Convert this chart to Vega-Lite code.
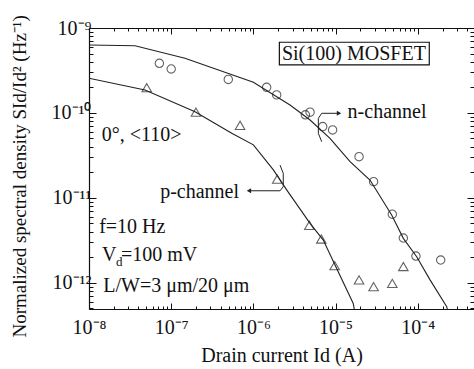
{
  "$schema": "https://vega.github.io/schema/vega-lite/v6.json",
  "width": 385,
  "height": 281,
  "autosize": {"type": "none"},
  "padding": {"left": 89, "top": 28, "right": 0, "bottom": 60},
  "background": "white",
  "config": {
    "view": {"stroke": null},
    "font": "Liberation Serif",
    "axis": {"grid": false, "domainColor": "#111", "tickColor": "#111", "labelColor": "#111", "titleColor": "#111", "labelFont": "Liberation Serif", "titleFont": "Liberation Serif", "titleFontWeight": "normal", "domainWidth": 1.2, "tickWidth": 1}
  },
  "datasets": {
    "fits": [
      {"ch": "n", "x": 1e-8, "y": 6.3e-10}, {"ch": "n", "x": 3.63e-8, "y": 6.19e-10}, {"ch": "n", "x": 1.47e-7, "y": 4.4e-10}, {"ch": "n", "x": 1e-6, "y": 2.3e-10}, {"ch": "n", "x": 2.79e-6, "y": 1.24e-10}, {"ch": "n", "x": 4.89e-6, "y": 8.25e-11}, {"ch": "n", "x": 8.55e-6, "y": 5.02e-11}, {"ch": "n", "x": 1.5e-5, "y": 2.66e-11}, {"ch": "n", "x": 2.62e-5, "y": 1.62e-11}, {"ch": "n", "x": 4.81e-5, "y": 6.27e-12}, {"ch": "n", "x": 6.67e-5, "y": 3.33e-12}, {"ch": "n", "x": 9.7e-5, "y": 2.02e-12}, {"ch": "n", "x": 1.41e-4, "y": 1.08e-12}, {"ch": "n", "x": 2.25e-4, "y": 5.2e-13}, {"ch": "n", "x": 2.4e-4, "y": 4.0e-13},
      {"ch": "p", "x": 1e-8, "y": 2.56e-10}, {"ch": "p", "x": 4.8e-8, "y": 1.86e-10}, {"ch": "p", "x": 1.95e-7, "y": 1.03e-10}, {"ch": "p", "x": 5.45e-7, "y": 5.75e-11}, {"ch": "p", "x": 1e-6, "y": 4.2e-11}, {"ch": "p", "x": 1.75e-6, "y": 2.13e-11}, {"ch": "p", "x": 2.54e-6, "y": 1.24e-11}, {"ch": "p", "x": 4.89e-6, "y": 5.0e-12}, {"ch": "p", "x": 7.08e-6, "y": 3.18e-12}, {"ch": "p", "x": 9.84e-6, "y": 1.62e-12}, {"ch": "p", "x": 1.64e-5, "y": 5.7e-13}, {"ch": "p", "x": 1.75e-5, "y": 4.0e-13}
    ],
    "nch": [
      {"x": 7.18e-8, "y": 3.84e-10}, {"x": 1.0e-7, "y": 3.29e-10}, {"x": 4.95e-7, "y": 2.48e-10}, {"x": 1.45e-6, "y": 2.0e-10}, {"x": 1.92e-6, "y": 1.63e-10}, {"x": 4.29e-6, "y": 9.5e-11}, {"x": 4.89e-6, "y": 1.02e-10}, {"x": 6.97e-6, "y": 6.9e-11}, {"x": 9.2e-6, "y": 6.3e-11}, {"x": 1.93e-5, "y": 3.05e-11}, {"x": 2.9e-5, "y": 1.55e-11}, {"x": 4.9e-5, "y": 6.4e-12}, {"x": 6.67e-5, "y": 3.36e-12}, {"x": 9.5e-5, "y": 2.06e-12}, {"x": 1.9e-4, "y": 1.85e-12}
    ],
    "pch": [
      {"x": 5.04e-8, "y": 1.98e-10}, {"x": 2.0e-7, "y": 1.02e-10}, {"x": 6.88e-7, "y": 7.14e-11}, {"x": 1.95e-6, "y": 1.66e-11}, {"x": 4.79e-6, "y": 4.74e-12}, {"x": 6.7e-6, "y": 3.27e-12}, {"x": 9.75e-6, "y": 1.59e-12}, {"x": 1.93e-5, "y": 1.08e-12}, {"x": 2.9e-5, "y": 8.98e-13}, {"x": 4.9e-5, "y": 9.8e-13}, {"x": 6.67e-5, "y": 1.55e-12}
    ],
    "arrows": [
      {"g": "n", "i": 1, "x": 6.78e-6, "y": 4.58e-11}, {"g": "n", "i": 2, "x": 6.17e-6, "y": 5.75e-11}, {"g": "n", "i": 3, "x": 6.17e-6, "y": 8.63e-11}, {"g": "n", "i": 4, "x": 6.78e-6, "y": 9.89e-11}, {"g": "n", "i": 5, "x": 1.07e-5, "y": 9.89e-11},
      {"g": "p", "i": 1, "x": 2.11e-6, "y": 2.43e-11}, {"g": "p", "i": 2, "x": 2.31e-6, "y": 1.94e-11}, {"g": "p", "i": 3, "x": 2.31e-6, "y": 1.35e-11}, {"g": "p", "i": 4, "x": 2.11e-6, "y": 1.21e-11}, {"g": "p", "i": 5, "x": 9.1e-7, "y": 1.21e-11}
    ],
    "heads": [
      {"x": 1.1e-5, "y": 9.89e-11, "shape": "triangle-right"}, {"x": 8.83e-7, "y": 1.21e-11, "shape": "triangle-left"}
    ],
    "textLeft": [
      {"x": 1.43e-8, "y": 5.49e-11, "t": "0°, <110>"}, {"x": 1.33e-8, "y": 4.57e-12, "t": "f=10 Hz"}, {"x": 1.44e-8, "y": 2.12e-12, "t": "V"}, {"x": 2.45e-8, "y": 2.12e-12, "t": "=100 mV"}, {"x": 1.49e-8, "y": 9.14e-13, "t": "L/W=3 μm/20 μm"}, {"x": 1.4e-5, "y": 1.02e-10, "t": "n-channel"}
    ],
    "textSub": [{"x": 2.13e-8, "y": 2.12e-12, "t": "d"}],
    "textRight": [{"x": 6.68e-7, "y": 1.18e-11, "t": "p-channel"}],
    "textCenter": [{"x": 1.67e-5, "y": 4.94e-10, "t": "Si(100) MOSFET"}],
    "box": [{"x": 2.07e-6, "x2": 1.38e-4, "y": 6.79e-10, "y2": 3.67e-10}]
  },
  "layer": [
    {
      "data": {"name": "fits"},
      "mark": {"type": "line", "color": "#222", "strokeWidth": 1.1, "clip": true},
      "encoding": {
        "x": {"field": "x", "type": "quantitative", "scale": {"type": "log", "domain": [1e-8, 4.83e-4], "nice": false},
          "axis": {"orient": "bottom", "values": [1e-8,2e-8,3e-8,4e-8,5e-8,6e-8,7e-8,8e-8,9e-8,1e-7,2e-7,3e-7,4e-7,5e-7,6e-7,7e-7,8e-7,9e-7,1e-6,2e-6,3e-6,4e-6,5e-6,6e-6,7e-6,8e-6,9e-6,1e-5,2e-5,3e-5,4e-5,5e-5,6e-5,7e-5,8e-5,9e-5,1e-4,2e-4,3e-4,4e-4],
            "labelExpr": "datum.value == 1e-8 ? '10⁻⁸' : datum.value == 1e-7 ? '10⁻⁷' : datum.value == 1e-6 ? '10⁻⁶' : datum.value == 1e-5 ? '10⁻⁵' : datum.value == 1e-4 ? '10⁻⁴' : ''",
            "labelFontSize": 20, "labelFlush": false, "labelOverlap": false, "labelBaseline": "alphabetic", "labelPadding": 30,
            "tickSize": {"condition": {"test": "indexof([1e-8,1e-7,1e-6,1e-5,1e-4], datum.value) >= 0", "value": -6}, "value": -3},
            "title": "Drain current Id (A)", "titleFontSize": 20, "titleBaseline": "alphabetic", "titleY": 52}},
        "y": {"field": "y", "type": "quantitative", "scale": {"type": "log", "domain": [4.9e-13, 1e-9], "nice": false},
          "axis": {"orient": "left", "values": [5e-13,6e-13,7e-13,8e-13,9e-13,1e-12,2e-12,3e-12,4e-12,5e-12,6e-12,7e-12,8e-12,9e-12,1e-11,2e-11,3e-11,4e-11,5e-11,6e-11,7e-11,8e-11,9e-11,1e-10,2e-10,3e-10,4e-10,5e-10,6e-10,7e-10,8e-10,9e-10,1e-9],
            "labelExpr": "datum.value == 1e-9 ? '10⁻⁹' : datum.value == 1e-10 ? '10⁻¹⁰' : datum.value == 1e-11 ? '10⁻¹¹' : datum.value == 1e-12 ? '10⁻¹²' : ''",
            "labelFontSize": 20, "labelFlush": false, "labelOverlap": false, "labelPadding": 5,
            "tickSize": {"condition": {"test": "indexof([1e-12,1e-11,1e-10,1e-9], datum.value) >= 0", "value": -7}, "value": -4},
            "title": "Normalized spectral density SId/Id² (Hz⁻¹)", "titleFontSize": 19, "titleAngle": -90, "titleAlign": "left", "titleBaseline": "alphabetic", "titleX": -64, "titleY": 309}},
        "detail": {"field": "ch"}
      }
    },
    {
      "data": {"name": "nch"},
      "mark": {"type": "point", "shape": "circle", "filled": false, "color": "#222", "size": 70, "strokeWidth": 1.1},
      "encoding": {
        "x": {"field": "x", "type": "quantitative", "scale": {"type": "log", "domain": [1e-8, 4.83e-4], "nice": false},
          "axis": {"orient": "top", "values": [1e-8,2e-8,3e-8,4e-8,5e-8,6e-8,7e-8,8e-8,9e-8,1e-7,2e-7,3e-7,4e-7,5e-7,6e-7,7e-7,8e-7,9e-7,1e-6,2e-6,3e-6,4e-6,5e-6,6e-6,7e-6,8e-6,9e-6,1e-5,2e-5,3e-5,4e-5,5e-5,6e-5,7e-5,8e-5,9e-5,1e-4,2e-4,3e-4,4e-4],
            "labels": false, "title": null,
            "tickSize": {"condition": {"test": "indexof([1e-8,1e-7,1e-6,1e-5,1e-4], datum.value) >= 0", "value": -6}, "value": -3}}},
        "y": {"field": "y", "type": "quantitative", "scale": {"type": "log", "domain": [4.9e-13, 1e-9], "nice": false},
          "axis": {"orient": "right", "values": [5e-13,6e-13,7e-13,8e-13,9e-13,1e-12,2e-12,3e-12,4e-12,5e-12,6e-12,7e-12,8e-12,9e-12,1e-11,2e-11,3e-11,4e-11,5e-11,6e-11,7e-11,8e-11,9e-11,1e-10,2e-10,3e-10,4e-10,5e-10,6e-10,7e-10,8e-10,9e-10,1e-9],
            "labels": false, "title": null, "domain": false,
            "tickSize": {"condition": {"test": "indexof([1e-12,1e-11,1e-10,1e-9], datum.value) >= 0", "value": -7}, "value": -4}}}
      }
    },
    {
      "data": {"name": "pch"},
      "mark": {"type": "point", "shape": "triangle-up", "filled": false, "color": "#222", "size": 90, "strokeWidth": 1.1},
      "encoding": {
        "x": {"field": "x", "type": "quantitative", "scale": {"type": "log", "domain": [1e-8, 4.83e-4], "nice": false}, "axis": null},
        "y": {"field": "y", "type": "quantitative", "scale": {"type": "log", "domain": [4.9e-13, 1e-9], "nice": false}, "axis": null}
      }
    },
    {
      "data": {"name": "arrows"},
      "mark": {"type": "line", "color": "#222", "strokeWidth": 1},
      "encoding": {
        "x": {"field": "x", "type": "quantitative", "scale": {"type": "log", "domain": [1e-8, 4.83e-4], "nice": false}, "axis": null},
        "y": {"field": "y", "type": "quantitative", "scale": {"type": "log", "domain": [4.9e-13, 1e-9], "nice": false}, "axis": null},
        "detail": {"field": "g"},
        "order": {"field": "i"}
      }
    },
    {
      "data": {"name": "heads"},
      "mark": {"type": "point", "filled": true, "color": "#222", "size": 25, "opacity": 1},
      "encoding": {
        "x": {"field": "x", "type": "quantitative", "scale": {"type": "log", "domain": [1e-8, 4.83e-4], "nice": false}, "axis": null},
        "y": {"field": "y", "type": "quantitative", "scale": {"type": "log", "domain": [4.9e-13, 1e-9], "nice": false}, "axis": null},
        "shape": {"field": "shape", "type": "nominal", "scale": null}
      }
    },
    {
      "data": {"name": "box"},
      "mark": {"type": "rect", "filled": false, "stroke": "#111", "strokeWidth": 1.2},
      "encoding": {
        "x": {"field": "x", "type": "quantitative", "scale": {"type": "log", "domain": [1e-8, 4.83e-4], "nice": false}, "axis": null},
        "x2": {"field": "x2"},
        "y": {"field": "y", "type": "quantitative", "scale": {"type": "log", "domain": [4.9e-13, 1e-9], "nice": false}, "axis": null},
        "y2": {"field": "y2"}
      }
    },
    {
      "data": {"name": "textLeft"},
      "mark": {"type": "text", "align": "left", "baseline": "middle", "fontSize": 20, "font": "Liberation Serif", "color": "#111"},
      "encoding": {
        "x": {"field": "x", "type": "quantitative", "scale": {"type": "log", "domain": [1e-8, 4.83e-4], "nice": false}, "axis": null},
        "y": {"field": "y", "type": "quantitative", "scale": {"type": "log", "domain": [4.9e-13, 1e-9], "nice": false}, "axis": null},
        "text": {"field": "t"}
      }
    },
    {
      "data": {"name": "textSub"},
      "mark": {"type": "text", "align": "left", "baseline": "middle", "fontSize": 13, "dy": 7, "font": "Liberation Serif", "color": "#111"},
      "encoding": {
        "x": {"field": "x", "type": "quantitative", "scale": {"type": "log", "domain": [1e-8, 4.83e-4], "nice": false}, "axis": null},
        "y": {"field": "y", "type": "quantitative", "scale": {"type": "log", "domain": [4.9e-13, 1e-9], "nice": false}, "axis": null},
        "text": {"field": "t"}
      }
    },
    {
      "data": {"name": "textRight"},
      "mark": {"type": "text", "align": "right", "baseline": "middle", "fontSize": 20, "font": "Liberation Serif", "color": "#111"},
      "encoding": {
        "x": {"field": "x", "type": "quantitative", "scale": {"type": "log", "domain": [1e-8, 4.83e-4], "nice": false}, "axis": null},
        "y": {"field": "y", "type": "quantitative", "scale": {"type": "log", "domain": [4.9e-13, 1e-9], "nice": false}, "axis": null},
        "text": {"field": "t"}
      }
    },
    {
      "data": {"name": "textCenter"},
      "mark": {"type": "text", "align": "center", "baseline": "middle", "fontSize": 20, "font": "Liberation Serif", "color": "#111"},
      "encoding": {
        "x": {"field": "x", "type": "quantitative", "scale": {"type": "log", "domain": [1e-8, 4.83e-4], "nice": false}, "axis": null},
        "y": {"field": "y", "type": "quantitative", "scale": {"type": "log", "domain": [4.9e-13, 1e-9], "nice": false}, "axis": null},
        "text": {"field": "t"}
      }
    }
  ],
  "resolve": {"axis": {"x": "independent", "y": "independent"}}
}
